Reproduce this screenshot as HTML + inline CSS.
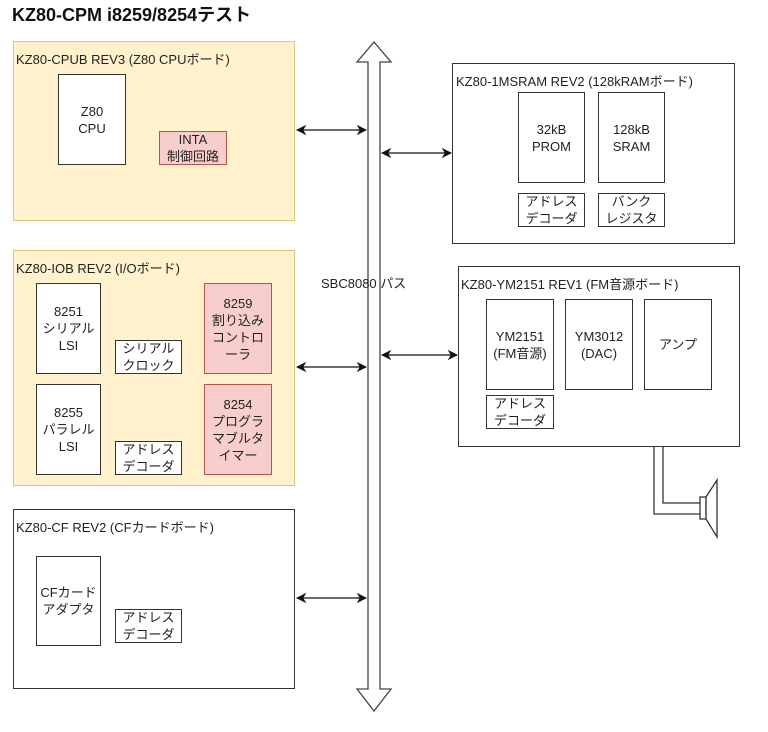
<!DOCTYPE html>
<html><head><meta charset="utf-8"><style>
body{margin:0;width:768px;height:732px;background:#fff;position:relative;overflow:hidden;font-family:"Liberation Sans","Noto Sans CJK JP",sans-serif;color:#222}
.b{position:absolute;box-sizing:border-box;border:1.3px solid #333;background:#fff;display:flex;align-items:center;justify-content:center;text-align:center;font-size:13px;line-height:17px}
.y{background:#fff2cc;border-color:#e0c77a}
.p{background:#f8cecc;border-color:#b85450}
.t{position:absolute;font-size:13px;white-space:nowrap}
</style></head><body>
<div class="t" style="left:12px;top:1px;font-size:18px;font-weight:bold;color:#111">KZ80-CPM i8259/8254テスト</div>

<div class="b y" style="left:13px;top:41px;width:282px;height:180px"></div>
<div class="t" style="left:16px;top:49px">KZ80-CPUB REV3 (Z80 CPUボード)</div>
<div class="b" style="left:58px;top:74px;width:68px;height:91px">Z80<br>CPU</div>
<div class="b p" style="left:159px;top:131px;width:68px;height:34px">INTA<br>制御回路</div>

<div class="b y" style="left:13px;top:250px;width:282px;height:236px"></div>
<div class="t" style="left:16px;top:258px">KZ80-IOB REV2 (I/Oボード)</div>
<div class="b" style="left:36px;top:283px;width:65px;height:91px">8251<br>シリアル<br>LSI</div>
<div class="b" style="left:115px;top:340px;width:67px;height:34px">シリアル<br>クロック</div>
<div class="b" style="left:36px;top:384px;width:65px;height:91px">8255<br>パラレル<br>LSI</div>
<div class="b" style="left:115px;top:441px;width:67px;height:34px">アドレス<br>デコーダ</div>
<div class="b p" style="left:204px;top:283px;width:68px;height:91px">8259<br>割り込み<br>コントロ<br>ーラ</div>
<div class="b p" style="left:204px;top:384px;width:68px;height:91px">8254<br>プログラ<br>マブルタ<br>イマー</div>

<div class="b" style="left:13px;top:509px;width:282px;height:180px"></div>
<div class="t" style="left:16px;top:517px">KZ80-CF REV2 (CFカードボード)</div>
<div class="b" style="left:36px;top:556px;width:65px;height:90px">CFカード<br>アダプタ</div>
<div class="b" style="left:115px;top:609px;width:67px;height:34px">アドレス<br>デコーダ</div>

<div class="b" style="left:452px;top:63px;width:283px;height:181px"></div>
<div class="t" style="left:456px;top:71px">KZ80-1MSRAM REV2 (128kRAMボード)</div>
<div class="b" style="left:518px;top:92px;width:67px;height:91px">32kB<br>PROM</div>
<div class="b" style="left:598px;top:92px;width:67px;height:91px">128kB<br>SRAM</div>
<div class="b" style="left:518px;top:193px;width:67px;height:34px">アドレス<br>デコーダ</div>
<div class="b" style="left:598px;top:193px;width:67px;height:34px">バンク<br>レジスタ</div>

<div class="b" style="left:458px;top:266px;width:282px;height:181px"></div>
<div class="t" style="left:461px;top:274px">KZ80-YM2151 REV1 (FM音源ボード)</div>
<div class="b" style="left:486px;top:299px;width:68px;height:91px">YM2151<br>(FM音源)</div>
<div class="b" style="left:565px;top:299px;width:68px;height:91px">YM3012<br>(DAC)</div>
<div class="b" style="left:644px;top:299px;width:68px;height:91px">アンプ</div>
<div class="b" style="left:486px;top:395px;width:68px;height:34px">アドレス<br>デコーダ</div>

<svg width="768" height="732" style="position:absolute;left:0;top:0" xmlns="http://www.w3.org/2000/svg">
<defs><marker id="a" viewBox="0 0 10 10" refX="9" refY="5" markerWidth="8" markerHeight="8" orient="auto-start-reverse"><path d="M0,0 L10,5 L0,10 L3,5z" fill="#111"/></marker></defs>
<path d="M374,42 L391,62 L380,62 L380,689 L391,689 L374,711 L357,689 L368,689 L368,62 L357,62 Z" fill="#fff" stroke="#444" stroke-width="1.3"/>
<text x="321" y="288" font-size="13" font-family="Liberation Sans,Noto Sans CJK JP,sans-serif" fill="#222">SBC8080 パス</text>
<g stroke="#111" stroke-width="1.3" fill="none">
<line x1="297" y1="130" x2="366" y2="130" marker-start="url(#a)" marker-end="url(#a)"/>
<line x1="382" y1="153" x2="451" y2="153" marker-start="url(#a)" marker-end="url(#a)"/>
<line x1="297" y1="367" x2="366" y2="367" marker-start="url(#a)" marker-end="url(#a)"/>
<line x1="382" y1="355" x2="457" y2="355" marker-start="url(#a)" marker-end="url(#a)"/>
<line x1="297" y1="598" x2="366" y2="598" marker-start="url(#a)" marker-end="url(#a)"/>
</g>
<g stroke="#333" stroke-width="1.3" fill="#fff">
<path d="M654,447 L654,514 L700,514 M663,447 L663,503 L700,503" fill="none"/>
<rect x="700" y="497" width="6" height="22"/>
<path d="M706,497 L717,480 L717,537 L706,519 Z"/>
</g>
</svg>
</body></html>
